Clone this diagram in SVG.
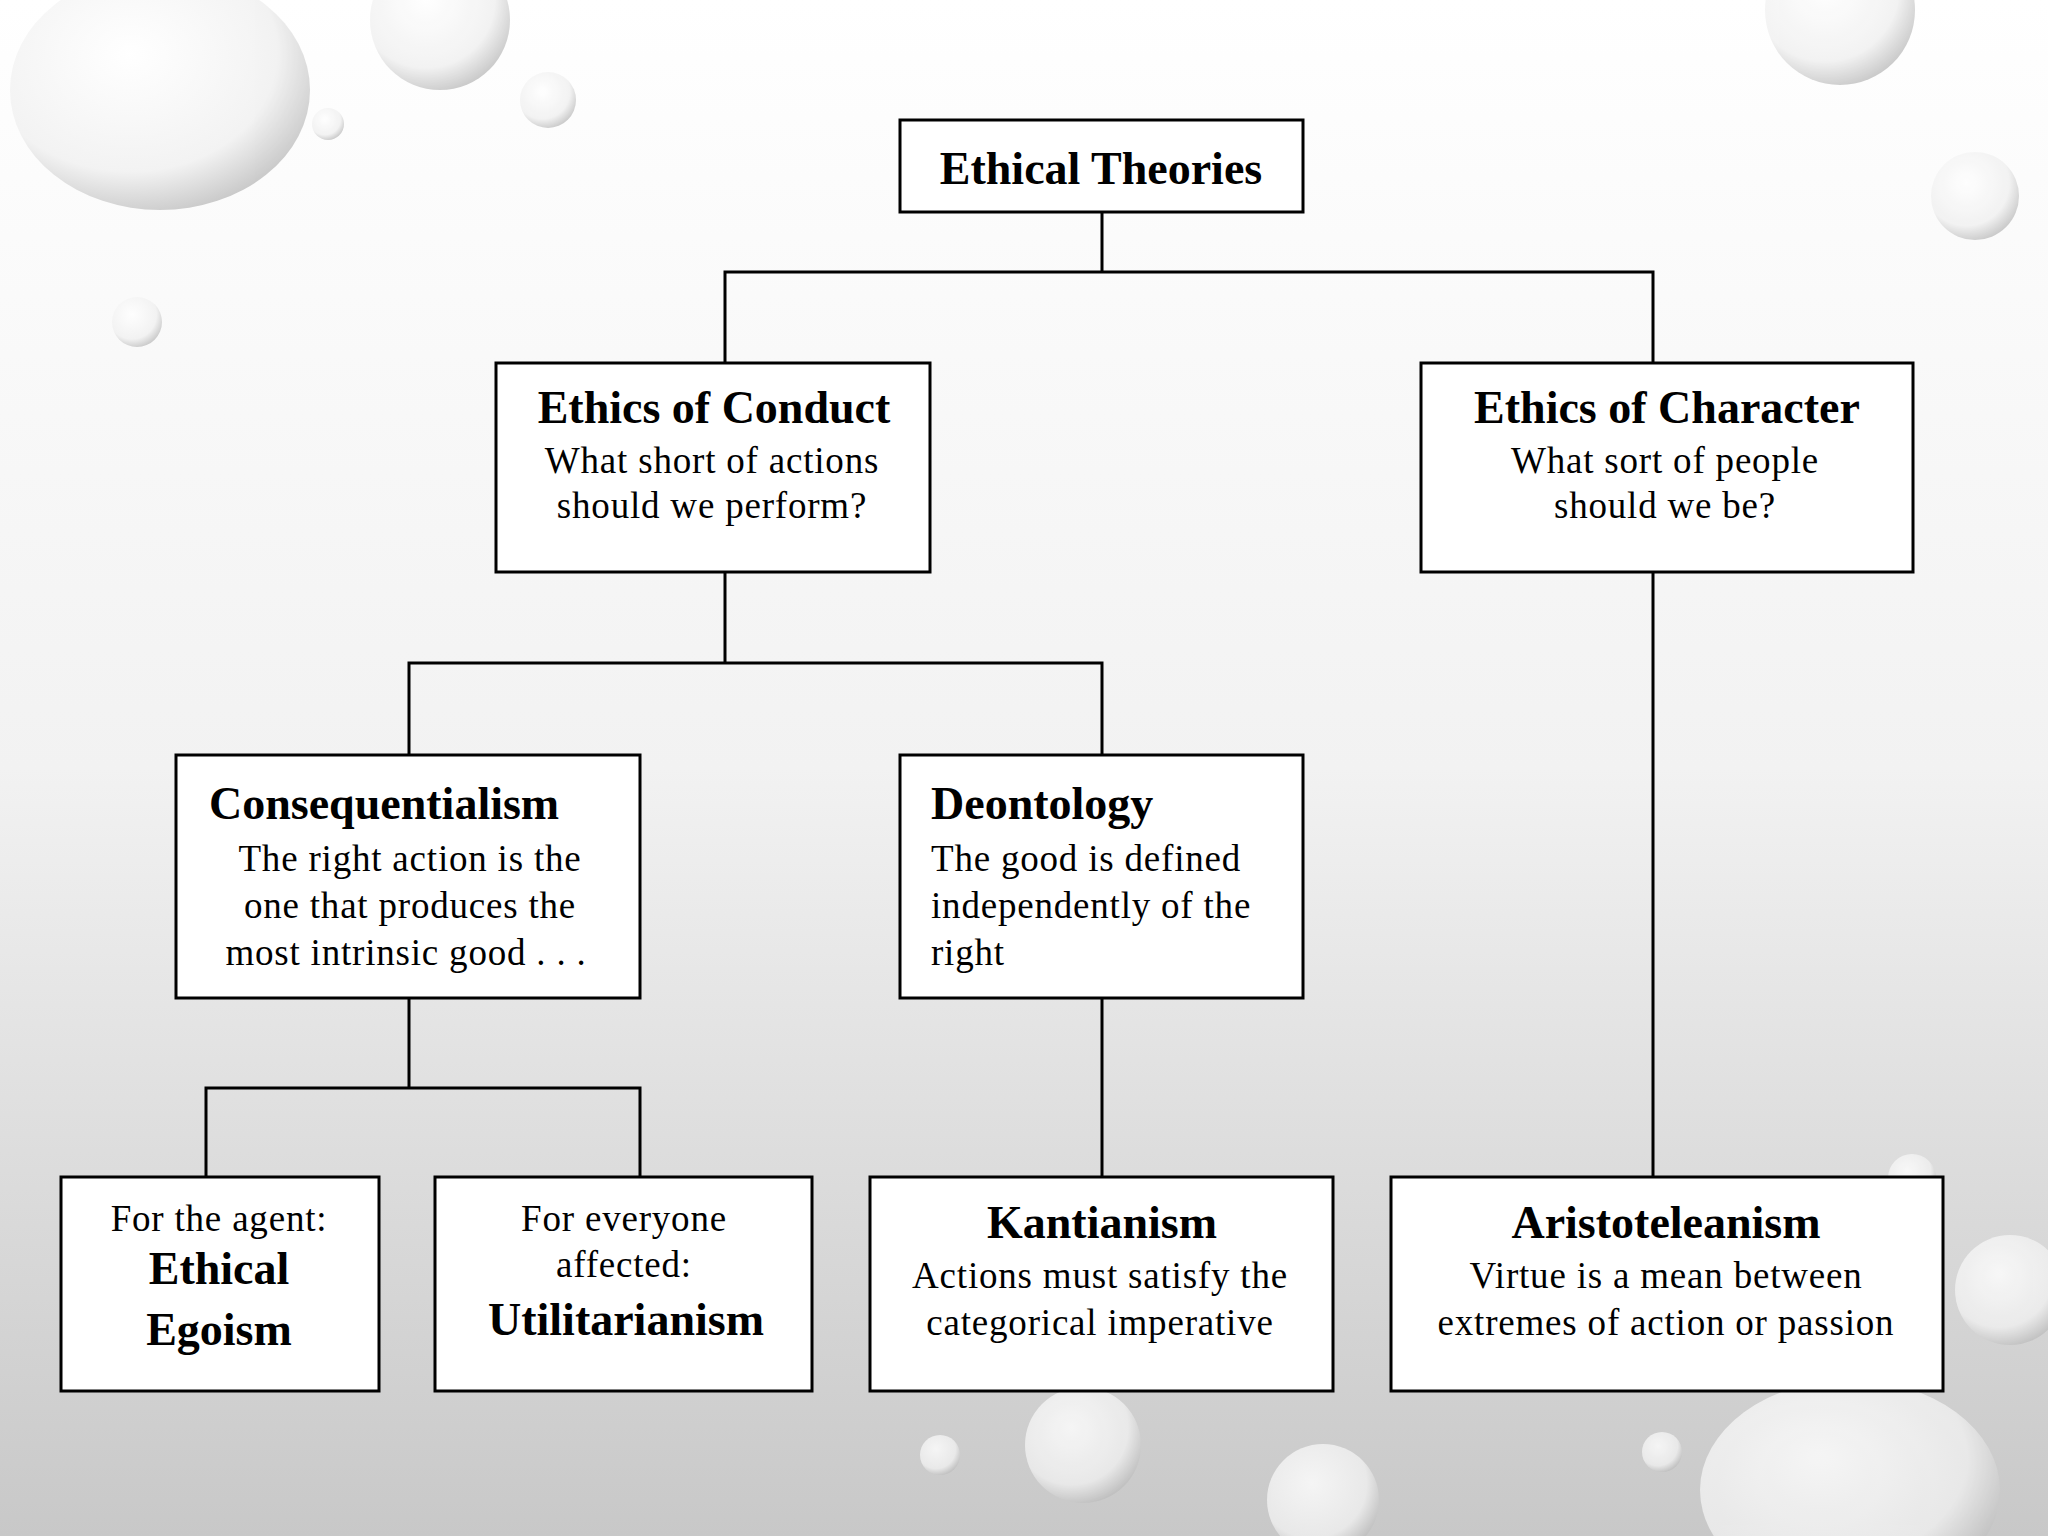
<svg xmlns="http://www.w3.org/2000/svg" width="2048" height="1536" viewBox="0 0 2048 1536">
<defs>
<linearGradient id="bg" x1="0" y1="0" x2="0" y2="1"><stop offset="0" stop-color="#ffffff"/><stop offset="0.5" stop-color="#f2f2f2"/><stop offset="1" stop-color="#c8c8c8"/></linearGradient>
<radialGradient id="drop" cx="0.4" cy="0.35" r="0.7"><stop offset="0" stop-color="#ffffff"/><stop offset="0.7" stop-color="#f0f0f0"/><stop offset="1" stop-color="#b8b8b8"/></radialGradient>
<style>
.box{fill:#fff;stroke:#000;stroke-width:3}
.c{fill:none;stroke:#000;stroke-width:3}
text{font-family:"Liberation Serif","Times New Roman",serif;fill:#000}
.h{font-size:46px;font-weight:bold}
.b{font-size:37px;letter-spacing:0.8px}
.m{text-anchor:middle}
</style>
</defs>
<rect width="2048" height="1536" fill="url(#bg)"/>
<g opacity="0.8">
<ellipse cx="160" cy="90" rx="150" ry="120" fill="url(#drop)"/>
<circle cx="440" cy="20" r="70" fill="url(#drop)"/>
<circle cx="548" cy="100" r="28" fill="url(#drop)"/>
<circle cx="328" cy="124" r="16" fill="url(#drop)"/>
<circle cx="137" cy="322" r="25" fill="url(#drop)"/>
<circle cx="1975" cy="196" r="44" fill="url(#drop)"/>
<circle cx="1840" cy="10" r="75" fill="url(#drop)"/>
<circle cx="1083" cy="1445" r="58" fill="url(#drop)"/>
<circle cx="940" cy="1455" r="20" fill="url(#drop)"/>
<circle cx="1323" cy="1500" r="56" fill="url(#drop)"/>
<circle cx="1662" cy="1452" r="20" fill="url(#drop)"/>
<ellipse cx="1850" cy="1490" rx="150" ry="110" fill="url(#drop)"/>
<circle cx="2010" cy="1290" r="55" fill="url(#drop)"/>
<circle cx="1912" cy="1178" r="24" fill="url(#drop)"/>
</g>
<g id="connectors">
<polyline class="c" points="1102,212 1102,272"/>
<polyline class="c" points="725,363 725,272 1653,272 1653,363"/>
<polyline class="c" points="725,572 725,663"/>
<polyline class="c" points="409,755 409,663 1102,663 1102,755"/>
<polyline class="c" points="409,998 409,1088"/>
<polyline class="c" points="206,1177 206,1088 640,1088 640,1177"/>
<polyline class="c" points="1102,998 1102,1177"/>
<polyline class="c" points="1653,572 1653,1177"/>
</g>
<g id="n-theories"><rect class="box" x="900" y="120" width="403" height="92"/><text class="h m" x="1101" y="184">Ethical Theories</text></g>
<g id="n-conduct"><rect class="box" x="496" y="363" width="434" height="209"/>
<text class="h m" x="714" y="423">Ethics of Conduct</text>
<text class="b m" x="712" y="473">What short of actions</text>
<text class="b m" x="712" y="518">should we perform?</text></g>
<g id="n-character"><rect class="box" x="1421" y="363" width="492" height="209"/>
<text class="h m" x="1667" y="423">Ethics of Character</text>
<text class="b m" x="1665" y="473">What sort of people</text>
<text class="b m" x="1665" y="518">should we be?</text></g>
<g id="n-conseq"><rect class="box" x="176" y="755" width="464" height="243"/>
<text class="h" x="209" y="819">Consequentialism</text>
<text class="b m" x="410" y="871">The right action is the</text>
<text class="b m" x="410" y="918">one that produces the</text>
<text class="b m" x="406" y="965">most intrinsic good . . .</text></g>
<g id="n-deont"><rect class="box" x="900" y="755" width="403" height="243"/>
<text class="h" x="931" y="819">Deontology</text>
<text class="b" x="931" y="871">The good is defined</text>
<text class="b" x="931" y="918">independently of the</text>
<text class="b" x="931" y="965">right</text></g>
<g id="n-egoism"><rect class="box" x="61" y="1177" width="318" height="214"/>
<text class="b m" x="219" y="1231">For the agent:</text>
<text class="h m" x="219" y="1284">Ethical</text>
<text class="h m" x="219" y="1345">Egoism</text></g>
<g id="n-util"><rect class="box" x="435" y="1177" width="377" height="214"/>
<text class="b m" x="624" y="1231">For everyone</text>
<text class="b m" x="624" y="1277">affected:</text>
<text class="h m" x="626" y="1335">Utilitarianism</text></g>
<g id="n-kant"><rect class="box" x="870" y="1177" width="463" height="214"/>
<text class="h m" x="1102" y="1238">Kantianism</text>
<text class="b m" x="1100" y="1288">Actions must satisfy the</text>
<text class="b m" x="1100" y="1335">categorical imperative</text></g>
<g id="n-arist"><rect class="box" x="1391" y="1177" width="552" height="214"/>
<text class="h m" x="1666" y="1238">Aristoteleanism</text>
<text class="b m" x="1666" y="1288">Virtue is a mean between</text>
<text class="b m" x="1666" y="1335">extremes of action or passion</text></g>
</svg>
